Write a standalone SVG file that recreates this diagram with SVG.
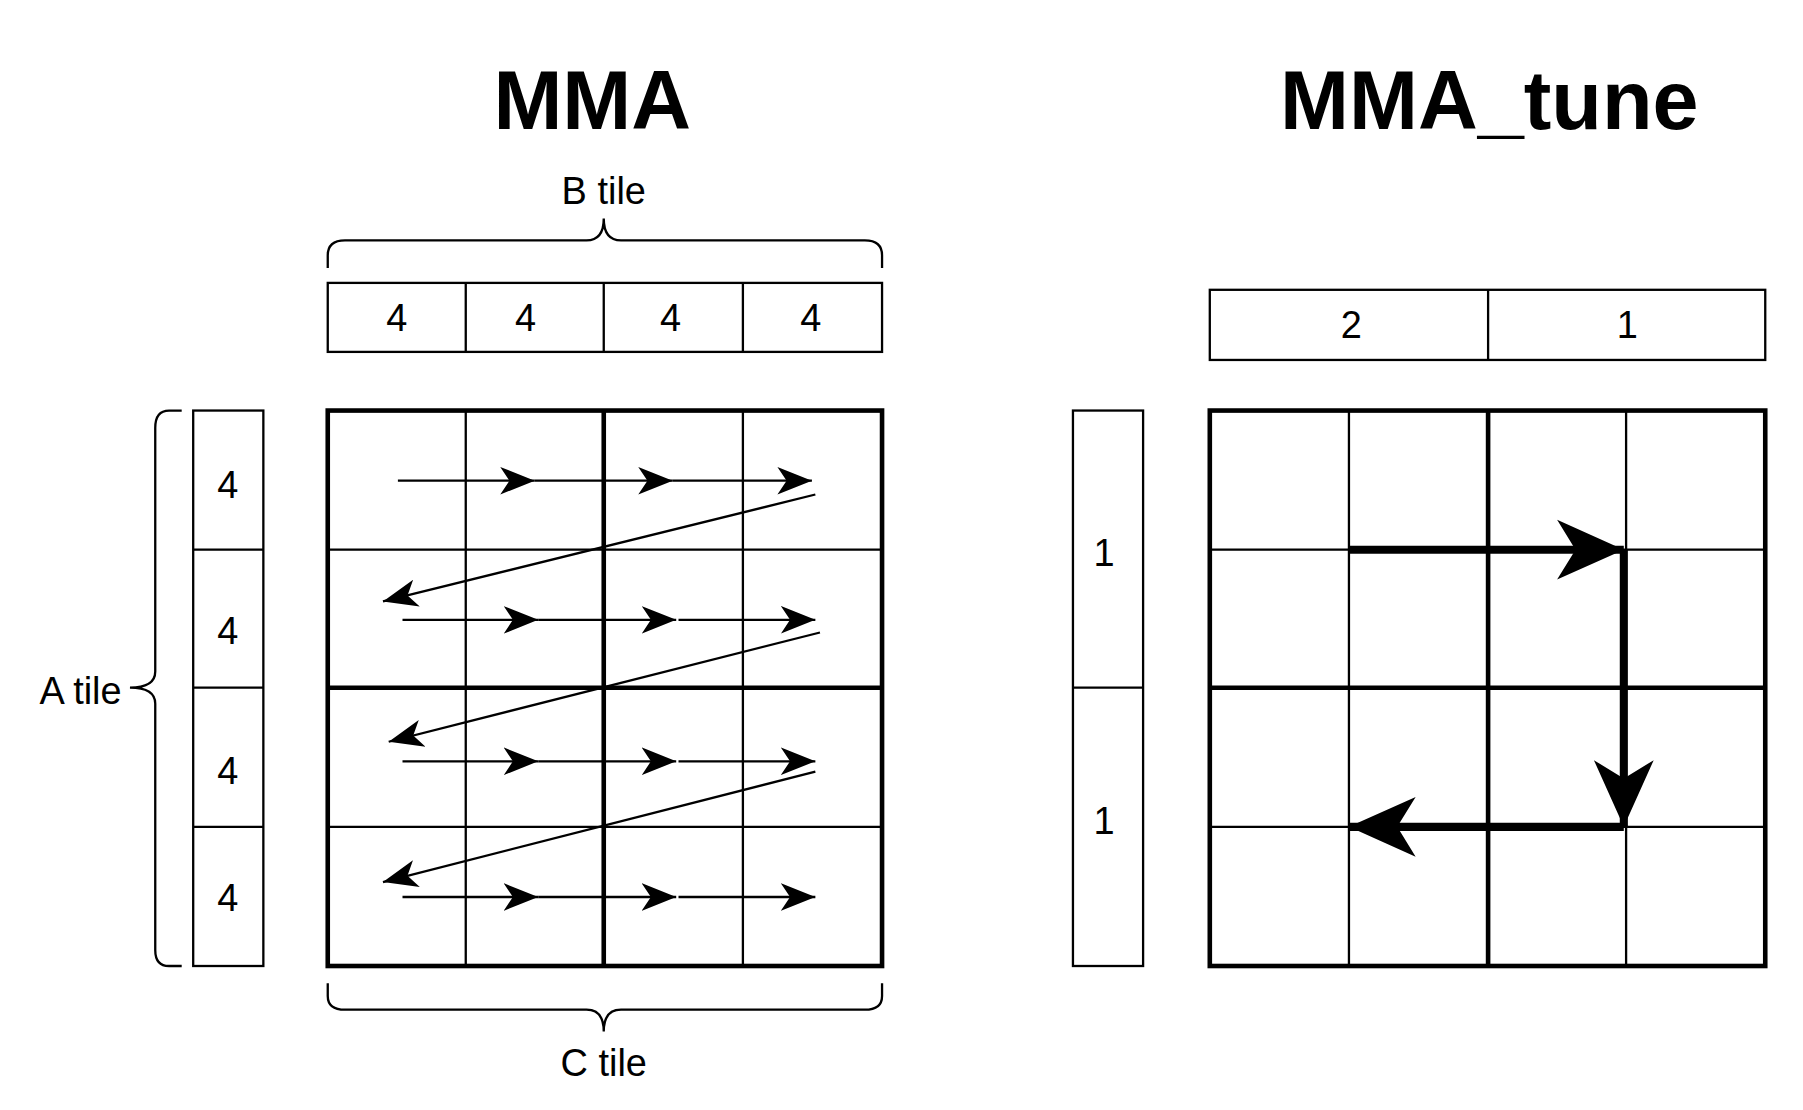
<svg xmlns="http://www.w3.org/2000/svg" width="1803" height="1110" viewBox="0 0 1803 1110">
<style>
text{font-family:"Liberation Sans",Arial,sans-serif;fill:#000}
.t{font-size:33px;text-anchor:middle}
.h{font-size:72px;font-weight:bold;text-anchor:middle}
.thin{stroke:#000;stroke-width:2;fill:none}
.thick{stroke:#000;stroke-width:4;fill:none}
.a{stroke:#000;stroke-width:2;fill:none;marker-end:url(#ah)}
.b{stroke:#000;stroke-width:7;fill:none;marker-end:url(#bh)}
</style>
<defs>
<marker id="ah" markerUnits="userSpaceOnUse" markerWidth="34" markerHeight="30" viewBox="0 0 34 30" refX="30" refY="15" orient="auto"><path d="M0,3 L30,15 L0,27 L8,15 Z" fill="#000"/></marker>
<marker id="bh" markerUnits="userSpaceOnUse" markerWidth="62" markerHeight="56" viewBox="0 0 62 56" refX="58" refY="28" orient="auto"><path d="M0,2 L58,28 L0,54 L16,28 Z" fill="#000"/></marker>
</defs>
<rect width="1803" height="1110" fill="#fff"/>
<g transform="scale(1.15)">
<g id="title-mma"><text class="h" x="515" y="112">MMA</text></g>
<g id="title-tune"><text class="h" x="1295" y="112">MMA_tune</text></g>
<g id="btile">
<rect class="thin" x="285" y="246" width="482" height="60"/>
<path class="thin" d="M405,246V306M525,246V306M646,246V306"/>
<text class="t" x="345" y="288">4</text><text class="t" x="457" y="288">4</text><text class="t" x="583" y="288">4</text><text class="t" x="705" y="288">4</text>
<path class="thin" d="M285,233V222Q285,209 300,209H510Q525,209 525,190Q525,209 540,209H752Q767,209 767,222V233"/>
<text class="t" x="525" y="177">B tile</text>
</g>
<g id="atile">
<rect class="thin" x="168" y="357" width="61" height="483"/>
<path class="thin" d="M168,478H229M168,598H229M168,719H229"/>
<text class="t" x="198" y="433">4</text><text class="t" x="198" y="560">4</text><text class="t" x="198" y="682">4</text><text class="t" x="198" y="792">4</text>
<path class="thin" d="M158,357H147Q135,357 135,372V584Q135,598 113,598Q135,598 135,612V826Q135,840 147,840H158"/>
<text class="t" x="70" y="612">A tile</text>
</g>
<g id="ctile">
<path class="thin" d="M285,855V866Q285,878 300,878H510Q525,878 525,897Q525,878 540,878H752Q767,878 767,866V855"/>
<text class="t" x="525" y="936">C tile</text>
</g>
<g id="grid-mma">
<path class="thin" d="M405,357V840M646,357V840M285,478H767M285,719H767"/>
<path class="thick" d="M525,357V840M285,598H767"/>
<rect class="thick" x="285" y="357" width="482" height="483"/>
</g>
<g id="connectors-mma">
<path class="a" d="M346,418H465"/><path class="a" d="M465,418H585"/><path class="a" d="M585,418H706"/>
<path class="a" d="M709,430L333,523"/>
<path class="a" d="M350,539H468"/><path class="a" d="M468,539H588"/><path class="a" d="M590,539H709"/>
<path class="a" d="M713,550L338,645"/>
<path class="a" d="M350,662H468"/><path class="a" d="M468,662H588"/><path class="a" d="M590,662H709"/>
<path class="a" d="M709,671L333,767"/>
<path class="a" d="M350,780H468"/><path class="a" d="M468,780H588"/><path class="a" d="M590,780H709"/>
</g>
<g id="tune-row">
<rect class="thin" x="1052" y="252" width="483" height="61"/>
<path class="thin" d="M1294,252V313"/>
<text class="t" x="1175" y="294">2</text><text class="t" x="1415" y="294">1</text>
</g>
<g id="tune-col">
<rect class="thin" x="933" y="357" width="61" height="483"/>
<path class="thin" d="M933,598H994"/>
<text class="t" x="960" y="492">1</text><text class="t" x="960" y="725">1</text>
</g>
<g id="grid-tune">
<path class="thin" d="M1173,357V840M1414,357V840M1052,478H1535M1052,719H1535"/>
<path class="thick" d="M1294,357V840M1052,598H1535"/>
<rect class="thick" x="1052" y="357" width="483" height="483"/>
</g>
<g id="connectors-tune">
<path class="b" d="M1173,478H1412"/>
<path class="b" d="M1412,478V719"/>
<path class="b" d="M1412,719H1173"/>
</g>
</g>
</svg>
